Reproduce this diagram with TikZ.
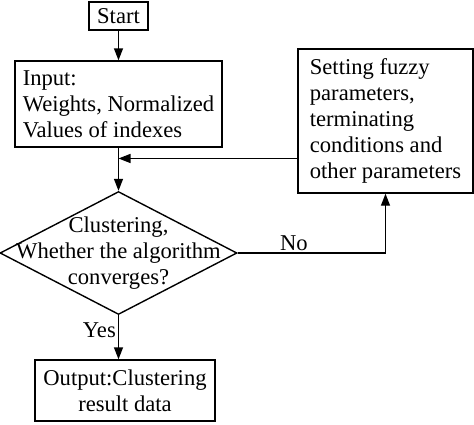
\documentclass[tikz,border=0pt]{standalone}
\usepackage{fontspec}
\setmainfont{Liberation Serif}
\usetikzlibrary{arrows.meta,calc,shapes.geometric}
\tikzset{
	box/.style={draw, line width=1.4pt, inner sep=0pt},
	flow/.style={line width=1.4pt, -{Triangle[length=12pt,width=9pt]}},
	lbl/.style={inner sep=2pt}
}

\begin{document}
\begin{tikzpicture}[x=1pt, y=-1pt, font=\fontsize{22.6}{26}\selectfont]
			%%%%% START %%%%%
			\useasboundingbox (0, 0) rectangle (474, 424);
			
			\node[box, minimum width=59pt, minimum height=28pt] (start) at (118.5, 16) {Start};
			
			\node[box, minimum width=207pt, minimum height=86pt, align=left] (input) at (118.5, 104) {Input:\\Weights, Normalized\\Values of indexes};
			
			\node[box, minimum width=175pt, minimum height=144pt, align=left] (setting) at (385.5, 121) {Setting fuzzy\\parameters,\\terminating\\conditions and\\other parameters};
			
			\node[box, diamond, aspect=1.93, inner sep=-30pt, minimum width=237pt, minimum height=123pt, align=center] (check) at (118.5, 253) {Clustering,\\Whether the algorithm\\converges?};
			
			\node[box, minimum width=180pt, minimum height=61pt, align=center] (output) at (125, 390.5) {Output:Clustering\\result data};
			
			\coordinate (join) at ($(input.south)!0.25!(check.north)$);
			
			\draw[flow] (start) -- (input);
			\draw[flow] (input) -- (check);
			\draw[flow] (setting.west |- join) -- (join);
			\draw[flow] (check.east) -| node[lbl, pos=0.19, above] {No} (setting.south);
			\draw[flow] (check.south) -- node[lbl, pos=0.35, left] {Yes} (check.south |- output.north);
			
			%%%%% END %%%%%
		\end{tikzpicture}
\end{document}
